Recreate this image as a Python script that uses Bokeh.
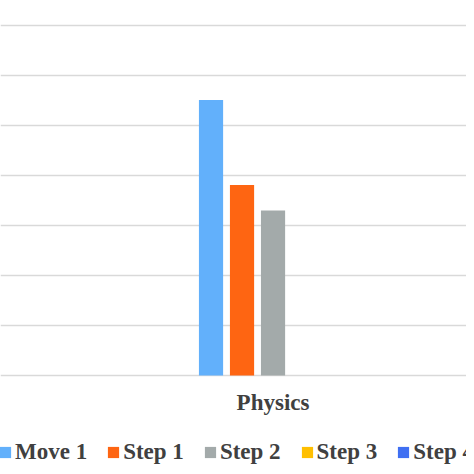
from bokeh.plotting import figure
from bokeh.models import (ColumnDataSource, Range1d, FixedTicker, Legend, LegendItem)
from bokeh.core.properties import value
from bokeh.embed import file_html
from bokeh.resources import INLINE

# data
category = "Physics"
series = ["Move 1", "Step 1", "Step 2", "Step 3", "Step 4"]
values = [5.51, 3.81, 3.30, 0.0, 0.0]
colors = ["#62b0fb", "#fe6512", "#a3aaaa", "#ffbf00", "#3f6ff2"]
grid_ticks = [0, 1, 2, 3, 4, 5, 6, 7]

TEXT = "#404040"
GRID = "#d9d9d9"

# the frame fills the whole figure; the band under y=0 holds the category name and legend
p = figure(width=466, height=466, output_backend="svg", toolbar_location=None,
           x_range=Range1d(-0.879, 0.624), y_range=Range1d(-1.82, 7.5),
           x_axis_location=None, y_axis_location=None,
           min_border=0)
p.outline_line_color = None
p.background_fill_color = "white"
p.border_fill_color = "white"

p.xgrid.visible = False
p.ygrid.ticker = FixedTicker(ticks=grid_ticks)
p.ygrid.grid_line_color = GRID
p.ygrid.grid_line_width = 1.5

# bars of the single category, dodged around its centre
step = 0.1
n = len(series)
xs = [(i - (n - 1) / 2) * step for i in range(n)]
items = []
for i, name in enumerate(series):
    src = ColumnDataSource(dict(x=[xs[i]], top=[values[i]]))
    r = p.vbar(x="x", top="top", bottom=0, width=0.078, source=src,
               fill_color=colors[i], line_color=None)
    items.append(LegendItem(label=name, renderers=[r]))

# category label under the group
p.text(x=[0], y=[-0.54], text=[category], text_align="center", text_baseline="middle",
       text_font=value("Liberation Serif"), text_font_style="bold",
       text_font_size="23px", text_color=TEXT)

legend = Legend(items=items, orientation="horizontal", location=(-2, 1),
                glyph_width=14, glyph_height=14, label_standoff=3,
                label_width=20, spacing=19, padding=0, margin=0,
                border_line_color=None, background_fill_alpha=0,
                label_text_font="Liberation Serif", label_text_font_style="bold",
                label_text_font_size="23px", label_text_color=TEXT)
p.add_layout(legend, "center")

open("out.html", "w").write(file_html(p, INLINE))
